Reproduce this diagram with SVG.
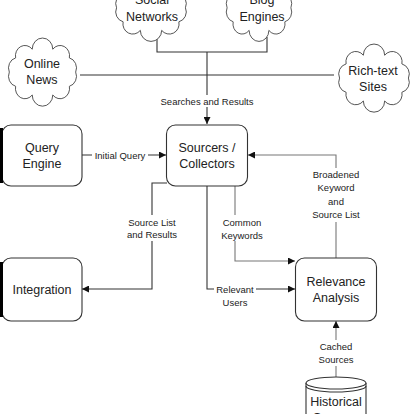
<svg xmlns="http://www.w3.org/2000/svg" width="414" height="414" viewBox="0 0 414 414">
<style>
.node{fill:#fff;stroke:#333;stroke-width:1.1}
.cloud{fill:#fff;stroke:#333;stroke-width:1}
.t{font-family:"Liberation Sans",Arial,sans-serif;font-size:12.5px;fill:#222;text-anchor:middle}
.l{font-family:"Liberation Sans",Arial,sans-serif;font-size:9.5px;fill:#222;text-anchor:middle}
.c{fill:none;stroke:#333;stroke-width:1.1}
.g{fill:none;stroke:#777;stroke-width:1.1}
.bg{fill:#fff;stroke:none}
</style>
<defs>
<marker id="ah" viewBox="0 0 10 10" refX="10" refY="5" markerWidth="7" markerHeight="7" markerUnits="userSpaceOnUse" orient="auto">
<path d="M0,0 L10,5 L0,10 z" fill="#111"/>
</marker>
<path id="cloudp" d="M92,35 A12,12 0 0 1 84,51.5 A12,12 0 0 1 63,61.6 A12,12 0 0 1 37,61.6 A12,12 0 0 1 16,51.5 A12,12 0 0 1 8,35 A12,12 0 0 1 16,18.5 A12,12 0 0 1 37,8.4 A12,12 0 0 1 63,8.4 A12,12 0 0 1 84,18.5 A12,12 0 0 1 92,35 Z"/>
</defs>
<rect width="414" height="414" fill="#fff"/>

<g id="connectors">
<path class="c" d="M157,37 V52 H267 V37"/>
<path class="c" d="M207,52 V124" stroke-width="1.6" marker-end="url(#ah)"/>
<path class="c" d="M80,75 H334"/>
<path class="c" d="M82,155 H166" marker-end="url(#ah)"/>
<path class="g" d="M336,258 V155 H248" marker-end="url(#ah)"/>
<path class="c" d="M167,183 H152 V289 H82" marker-end="url(#ah)"/>
<path class="g" d="M235,186 V261 H295" marker-end="url(#ah)"/>
<path class="c" d="M207,186 V289 H295" marker-end="url(#ah)"/>
<path class="g" d="M336,378 V321" marker-end="url(#ah)"/>
<rect class="bg" x="158" y="95" width="98" height="12"/>
<rect class="bg" x="92" y="149" width="56" height="12"/>
<rect class="bg" x="308" y="168" width="56" height="54"/>
<rect class="bg" x="124" y="215" width="56" height="26"/>
<rect class="bg" x="218" y="215" width="48" height="26"/>
<rect class="bg" x="214" y="283" width="42" height="24"/>
<rect class="bg" x="314" y="340" width="44" height="26"/>
<text class="l" x="207" y="104.5">Searches and Results</text>
<text class="l" x="120" y="158.5">Initial Query</text>
<text class="l" x="336" y="177.5">Broadened</text>
<text class="l" x="336" y="191">Keyword</text>
<text class="l" x="336" y="204.5">and</text>
<text class="l" x="336" y="217.5">Source List</text>
<text class="l" x="152" y="225.5">Source List</text>
<text class="l" x="152" y="238">and Results</text>
<text class="l" x="242" y="225.5">Common</text>
<text class="l" x="242" y="239">Keywords</text>
<text class="l" x="235" y="292.5">Relevant</text>
<text class="l" x="235" y="305.5">Users</text>
<text class="l" x="336" y="349.5">Cached</text>
<text class="l" x="336" y="362.5">Sources</text>
</g>

<g id="social-networks">
<use href="#cloudp" class="cloud" transform="translate(110,-22) scale(0.82,0.85)" vector-effect="non-scaling-stroke"/>
<text class="t" x="152" y="4">Social</text>
<text class="t" x="152" y="20.5">Networks</text>
</g>
<g id="blog-engines">
<use href="#cloudp" class="cloud" transform="translate(221,-22) scale(0.76,0.85)"/>
<text class="t" x="262" y="4">Blog</text>
<text class="t" x="262" y="20.5">Engines</text>
</g>
<g id="online-news">
<use href="#cloudp" class="cloud" transform="translate(3,42) scale(0.79,0.86)"/>
<text class="t" x="42" y="67.5">Online</text>
<text class="t" x="42" y="83.5">News</text>
</g>
<g id="rich-text-sites">
<use href="#cloudp" class="cloud" transform="translate(333,48) scale(0.82,0.86)"/>
<text class="t" x="373" y="74.5">Rich-text</text>
<text class="t" x="373" y="90.5">Sites</text>
</g>

<g id="query-engine">
<rect class="node" x="2" y="125" width="80" height="61" rx="9"/>
<line x1="1.5" y1="128" x2="1.5" y2="183" stroke="#000" stroke-width="3"/>
<text class="t" x="42" y="151.5">Query</text>
<text class="t" x="42" y="167.5">Engine</text>
</g>
<g id="sourcers-collectors">
<rect class="node" x="166.5" y="125" width="81" height="61" rx="9"/>
<text class="t" x="207" y="151.5">Sourcers /</text>
<text class="t" x="207" y="167.5">Collectors</text>
</g>
<g id="integration">
<rect class="node" x="2" y="258" width="80" height="63" rx="9"/>
<line x1="1.5" y1="262" x2="1.5" y2="317" stroke="#000" stroke-width="3"/>
<text class="t" x="42" y="293.5">Integration</text>
</g>
<g id="relevance-analysis">
<rect class="node" x="295.5" y="258" width="81" height="63" rx="9"/>
<text class="t" x="336" y="285.5">Relevance</text>
<text class="t" x="336" y="302">Analysis</text>
</g>
<g id="historical-sources">
<path class="node" d="M306,383 V420 H366 V383"/>
<ellipse class="node" cx="336" cy="383" rx="30" ry="6"/>
<path class="c" d="M306,386 A30,6 0 0 0 366,386"/>
<text class="t" x="336" y="406">Historical</text>
<text class="t" x="336" y="422">Sources</text>
</g>
</svg>
